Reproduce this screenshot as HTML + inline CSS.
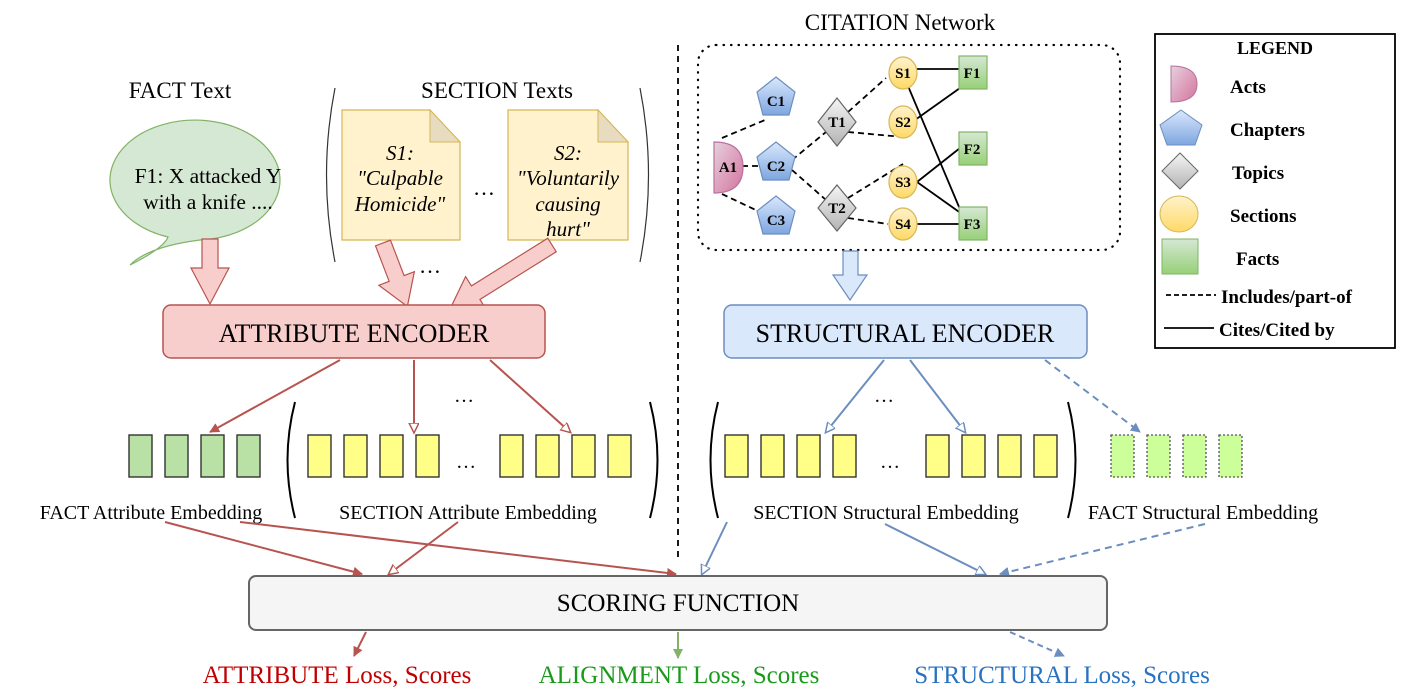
<!DOCTYPE html>
<html><head><meta charset="utf-8"><style>
body{margin:0;background:#fff}
svg{display:block;font-family:"Liberation Serif",serif}
</style></head><body>
<svg width="1404" height="696" viewBox="0 0 1404 696" xmlns="http://www.w3.org/2000/svg">
<defs>
<marker id="rf" markerWidth="12" markerHeight="12" refX="9" refY="5" orient="auto" markerUnits="userSpaceOnUse"><path d="M0,0 L10,5 L0,10 z" fill="#b85450"/></marker>
<marker id="ro" markerWidth="12" markerHeight="12" refX="9" refY="5" orient="auto" markerUnits="userSpaceOnUse"><path d="M0,0 L10,5 L0,10 z" fill="#fff" stroke="#b85450" stroke-width="1.5"/></marker>
<marker id="bo" markerWidth="12" markerHeight="12" refX="9" refY="5" orient="auto" markerUnits="userSpaceOnUse"><path d="M0,0 L10,5 L0,10 z" fill="#fff" stroke="#6c8ebf" stroke-width="1.5"/></marker>
<marker id="bf" markerWidth="12" markerHeight="12" refX="9" refY="5" orient="auto" markerUnits="userSpaceOnUse"><path d="M0,0 L10,5 L0,10 z" fill="#6c8ebf"/></marker>
<marker id="gf" markerWidth="12" markerHeight="12" refX="9" refY="5" orient="auto" markerUnits="userSpaceOnUse"><path d="M0,0 L10,5 L0,10 z" fill="#82b366"/></marker>
<linearGradient id="gA" x1="0" y1="0" x2="1" y2="1"><stop offset="0" stop-color="#e6d0de"/><stop offset="1" stop-color="#d5739d"/></linearGradient>
<linearGradient id="gC" x1="0" y1="0" x2="0" y2="1"><stop offset="0" stop-color="#dae8fc"/><stop offset="1" stop-color="#7ea6e0"/></linearGradient>
<linearGradient id="gT" x1="0" y1="0" x2="0" y2="1"><stop offset="0" stop-color="#f5f5f5"/><stop offset="1" stop-color="#b3b3b3"/></linearGradient>
<linearGradient id="gS" x1="0" y1="0" x2="0" y2="1"><stop offset="0" stop-color="#fff2cc"/><stop offset="1" stop-color="#ffd966"/></linearGradient>
<linearGradient id="gF" x1="0" y1="0" x2="0" y2="1"><stop offset="0" stop-color="#d5e8d4"/><stop offset="1" stop-color="#97d077"/></linearGradient>
</defs>

<!-- left top -->
<text x="180" y="98" font-size="23" text-anchor="middle">FACT Text</text>
<text x="497" y="98" font-size="23" text-anchor="middle">SECTION Texts</text>
<path d="M168,237 A85,60 0 1 1 200,240 C160,245 140,255 130,265 C150,255 165,245 168,237 z" fill="#d5e8d4" stroke="#82b366" stroke-width="1.2"/>
<text x="208" y="183" font-size="21.5" text-anchor="middle">F1: X attacked Y</text>
<text x="208" y="209" font-size="21.5" text-anchor="middle">with a knife ....</text>
<path d="M335,88 Q318,175 335,262" fill="none" stroke="#333" stroke-width="1.2"/>
<path d="M640,88 Q657,175 640,262" fill="none" stroke="#333" stroke-width="1.2"/>
<path d="M342,110 H430 L460,142 V240 H342 z" fill="#fff2cc" stroke="#d6b656" stroke-width="1.2"/>
<path d="M430,110 V142 H460 z" fill="#e8dcc0" stroke="#d6b656" stroke-width="1"/>
<path d="M508,110 H598 L628,142 V240 H508 z" fill="#fff2cc" stroke="#d6b656" stroke-width="1.2"/>
<path d="M598,110 V142 H628 z" fill="#e8dcc0" stroke="#d6b656" stroke-width="1"/>
<g font-size="21" font-style="italic" text-anchor="middle">
<text x="400" y="160">S1:</text><text x="400" y="185">"Culpable</text><text x="400" y="211">Homicide"</text>
<text x="568" y="160">S2:</text><text x="568" y="185">"Voluntarily</text><text x="568" y="211">causing</text><text x="568" y="236">hurt"</text>
</g>
<text x="484" y="195" font-size="22" text-anchor="middle">…</text>
<text x="430" y="273" font-size="22" text-anchor="middle">…</text>
<!-- fat arrows -->
<path d="M202,239 H218 V268 H229 L210,304 L191,268 H202 z" fill="#f8cecc" stroke="#b85450" stroke-width="1.2"/>
<g transform="translate(383,243) rotate(-21)"><path d="M-8,0 H8 V38 H19 L0,68 L-19,38 H-8 z" fill="#f8cecc" stroke="#b85450" stroke-width="1.2"/></g>
<g transform="translate(552,245) rotate(58)"><path d="M-8,0 H8 V90 H19 L0,120 L-19,90 H-8 z" fill="#f8cecc" stroke="#b85450" stroke-width="1.2"/></g>
<rect x="163" y="305" width="382" height="53" rx="8" fill="#f8cecc" stroke="#b85450" stroke-width="1.5"/>
<text x="354" y="342" font-size="26" text-anchor="middle">ATTRIBUTE ENCODER</text>

<!-- divider -->
<line x1="678" y1="45" x2="678" y2="560" stroke="#000" stroke-width="1.8" stroke-dasharray="6,5"/>

<!-- citation network -->
<text x="900" y="30" font-size="23" text-anchor="middle">CITATION Network</text>
<rect x="698" y="45" width="422" height="205" rx="18" fill="none" stroke="#000" stroke-width="2.2" stroke-dasharray="0.5,7" stroke-linecap="round"/>
<g stroke="#000" stroke-width="1.8" stroke-dasharray="6,4" fill="none">
<line x1="722" y1="138" x2="765" y2="120"/><line x1="742" y1="166" x2="762" y2="166"/><line x1="722" y1="194" x2="760" y2="212"/>
<line x1="792" y1="160" x2="826" y2="132"/><line x1="792" y1="170" x2="826" y2="200"/>
<line x1="848" y1="112" x2="886" y2="78"/><line x1="848" y1="132" x2="903" y2="137"/>
<line x1="848" y1="198" x2="903" y2="164"/><line x1="848" y1="218" x2="888" y2="224"/>
</g>
<g stroke="#000" stroke-width="1.8">
<line x1="917" y1="69" x2="959" y2="69"/><line x1="917" y1="224" x2="959" y2="224"/>
<line x1="915" y1="120" x2="960" y2="88"/><line x1="908" y1="86" x2="962" y2="214"/>
<line x1="917" y1="182" x2="960" y2="148"/><line x1="917" y1="182" x2="962" y2="214"/>
</g>
<path d="M714,142 Q743,142 743,167 Q743,193 714,193 z" fill="url(#gA)" stroke="#b5739d" stroke-width="1.2"/>
<g fill="url(#gC)" stroke="#6c8ebf" stroke-width="1.2">
<path d="M776,77 L795,92 L789,115 L763,115 L757,92 z"/>
<path d="M776,142 L795,157 L789,180 L763,180 L757,157 z"/>
<path d="M776,196 L795,211 L789,234 L763,234 L757,211 z"/>
</g>
<g fill="url(#gT)" stroke="#666" stroke-width="1.2">
<path d="M837,98 L856,122 L837,146 L818,122 z"/><path d="M837,185 L856,208 L837,231 L818,208 z"/>
</g>
<g fill="url(#gS)" stroke="#d6b656" stroke-width="1.2">
<ellipse cx="903" cy="73" rx="14" ry="16"/><ellipse cx="903" cy="122" rx="14" ry="16"/>
<ellipse cx="903" cy="182" rx="14" ry="16"/><ellipse cx="903" cy="224" rx="14" ry="16"/>
</g>
<g fill="url(#gF)" stroke="#82b366" stroke-width="1.2">
<rect x="959" y="56" width="28" height="33"/><rect x="959" y="132" width="28" height="33"/><rect x="959" y="207" width="28" height="33"/>
</g>
<g font-size="15" font-weight="bold" text-anchor="middle">
<text x="728" y="172">A1</text><text x="776" y="106">C1</text><text x="776" y="171">C2</text><text x="776" y="225">C3</text>
<text x="837" y="127">T1</text><text x="837" y="213">T2</text>
<text x="903" y="78">S1</text><text x="903" y="127">S2</text><text x="903" y="187">S3</text><text x="903" y="229">S4</text>
<text x="972" y="78">F1</text><text x="972" y="154">F2</text><text x="972" y="229">F3</text>
</g>
<path d="M843,251 H858 V275 H867 L850,300 L833,275 H843 z" fill="#dae8fc" stroke="#6c8ebf" stroke-width="1.2"/>
<rect x="724" y="305" width="363" height="53" rx="8" fill="#dae8fc" stroke="#6c8ebf" stroke-width="1.5"/>
<text x="905" y="342" font-size="26" text-anchor="middle">STRUCTURAL ENCODER</text>

<!-- legend -->
<rect x="1155" y="34" width="240" height="314" fill="#fff" stroke="#000" stroke-width="1.8"/>
<g font-size="19" font-weight="bold">
<text x="1275" y="54" text-anchor="middle" font-size="18">LEGEND</text>
<text x="1230" y="93">Acts</text><text x="1230" y="136">Chapters</text><text x="1232" y="179">Topics</text>
<text x="1230" y="222">Sections</text><text x="1236" y="265">Facts</text>
<text x="1221" y="303">Includes/part-of</text><text x="1219" y="336">Cites/Cited by</text>
</g>
<path d="M1171,66 Q1197,66 1197,84 Q1197,102 1171,102 z" fill="url(#gA)" stroke="#b5739d"/>
<path d="M1181,110 L1202,125 L1195,145 L1167,145 L1160,125 z" fill="url(#gC)" stroke="#6c8ebf"/>
<path d="M1180,153 L1198,171 L1180,189 L1162,171 z" fill="url(#gT)" stroke="#666"/>
<ellipse cx="1179" cy="214" rx="19" ry="18" fill="url(#gS)" stroke="#d6b656"/>
<rect x="1162" y="239" width="36" height="35" fill="url(#gF)" stroke="#82b366"/>
<line x1="1166" y1="295" x2="1216" y2="295" stroke="#000" stroke-width="1.8" stroke-dasharray="5,3"/>
<line x1="1164" y1="328" x2="1214" y2="328" stroke="#000" stroke-width="1.8"/>

<!-- encoder to embeddings -->
<g fill="none" stroke-width="2">
<line x1="340" y1="360" x2="210" y2="432" stroke="#b85450" marker-end="url(#rf)"/>
<line x1="414" y1="360" x2="414" y2="432" stroke="#b85450" marker-end="url(#ro)"/>
<line x1="490" y1="360" x2="570" y2="432" stroke="#b85450" marker-end="url(#ro)"/>
<line x1="884" y1="360" x2="826" y2="432" stroke="#6c8ebf" marker-end="url(#bo)"/>
<line x1="910" y1="360" x2="965" y2="432" stroke="#6c8ebf" marker-end="url(#bo)"/>
<line x1="1045" y1="360" x2="1140" y2="432" stroke="#6c8ebf" stroke-dasharray="7,5" marker-end="url(#bf)"/>
</g>
<text x="464" y="402" font-size="20" text-anchor="middle">…</text>
<text x="884" y="402" font-size="20" text-anchor="middle">…</text>

<!-- embeddings -->
<g fill="#b9e0a5" stroke="#333" stroke-width="1.4">
<rect x="129" y="435" width="23" height="42"/><rect x="165" y="435" width="23" height="42"/><rect x="201" y="435" width="23" height="42"/><rect x="237" y="435" width="23" height="42"/>
</g>
<g fill="#ffff88" stroke="#333" stroke-width="1.4">
<rect x="308" y="435" width="23" height="42"/><rect x="344" y="435" width="23" height="42"/><rect x="380" y="435" width="23" height="42"/><rect x="416" y="435" width="23" height="42"/>
<rect x="500" y="435" width="23" height="42"/><rect x="536" y="435" width="23" height="42"/><rect x="572" y="435" width="23" height="42"/><rect x="608" y="435" width="23" height="42"/>
<rect x="725" y="435" width="23" height="42"/><rect x="761" y="435" width="23" height="42"/><rect x="797" y="435" width="23" height="42"/><rect x="833" y="435" width="23" height="42"/>
<rect x="926" y="435" width="23" height="42"/><rect x="962" y="435" width="23" height="42"/><rect x="998" y="435" width="23" height="42"/><rect x="1034" y="435" width="23" height="42"/>
</g>
<g fill="#ccff99" stroke="#555" stroke-width="1.3" stroke-dasharray="2,2">
<rect x="1111" y="435" width="23" height="42"/><rect x="1147" y="435" width="23" height="42"/><rect x="1183" y="435" width="23" height="42"/><rect x="1219" y="435" width="23" height="42"/>
</g>
<text x="466" y="468" font-size="20" text-anchor="middle">…</text>
<text x="890" y="468" font-size="20" text-anchor="middle">…</text>
<g fill="none" stroke="#000" stroke-width="2">
<path d="M295,402 Q280,460 295,518"/><path d="M650,402 Q665,460 650,518"/>
<path d="M718,402 Q703,460 718,518"/><path d="M1068,402 Q1083,460 1068,518"/>
</g>
<g font-size="20" text-anchor="middle">
<text x="151" y="519">FACT Attribute Embedding</text>
<text x="468" y="519">SECTION Attribute Embedding</text>
<text x="886" y="519">SECTION Structural Embedding</text>
<text x="1203" y="519">FACT Structural Embedding</text>
</g>

<!-- to scoring -->
<g fill="none" stroke-width="2">
<line x1="165" y1="522" x2="362" y2="574" stroke="#b85450" marker-end="url(#rf)"/>
<line x1="240" y1="522" x2="676" y2="574" stroke="#b85450" marker-end="url(#rf)"/>
<line x1="458" y1="522" x2="389" y2="574" stroke="#b85450" marker-end="url(#ro)"/>
<line x1="727" y1="522" x2="702" y2="574" stroke="#6c8ebf" marker-end="url(#bo)"/>
<line x1="885" y1="524" x2="985" y2="574" stroke="#6c8ebf" marker-end="url(#bo)"/>
<line x1="1205" y1="524" x2="1000" y2="574" stroke="#6c8ebf" stroke-dasharray="7,5" marker-end="url(#bf)"/>
</g>
<rect x="249" y="576" width="858" height="54" rx="7" fill="#f5f5f5" stroke="#666" stroke-width="2"/>
<text x="678" y="611" font-size="25" text-anchor="middle">SCORING FUNCTION</text>
<g fill="none" stroke-width="2">
<line x1="366" y1="632" x2="354" y2="656" stroke="#b85450" marker-end="url(#rf)"/>
<line x1="678" y1="632" x2="678" y2="658" stroke="#82b366" marker-end="url(#gf)"/>
<line x1="1010" y1="632" x2="1064" y2="656" stroke="#6c8ebf" stroke-dasharray="6,4" marker-end="url(#bf)"/>
</g>
<g font-size="25" text-anchor="middle">
<text x="337" y="683" fill="#c00000">ATTRIBUTE Loss, Scores</text>
<text x="679" y="683" fill="#1a9a1a">ALIGNMENT Loss, Scores</text>
<text x="1062" y="683" fill="#2a72c0">STRUCTURAL Loss, Scores</text>
</g>
</svg>
</body></html>
